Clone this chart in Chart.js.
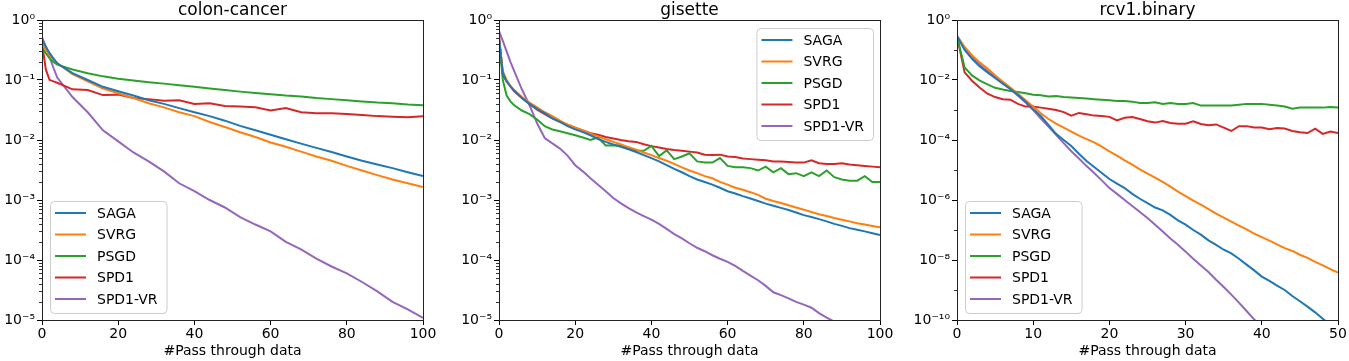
<!DOCTYPE html>
<html>
<head>
<meta charset="utf-8">
<script src="https://cdn.jsdelivr.net/npm/chart.js@4.4.1/dist/chart.umd.min.js"></script>
<style>
  html, body { margin: 0; padding: 0; background: #fff; }
  #wrap { position: relative; width: 1349px; height: 361px; overflow: hidden; }
  canvas { position: absolute; top: 0; }
</style>
</head>
<body>
<div id="wrap">
  <canvas id="c1" width="450" height="361" style="left:0px"></canvas>
  <canvas id="c2" width="450" height="361" style="left:450px"></canvas>
  <canvas id="c3" width="449" height="361" style="left:900px"></canvas>
</div>
<script>
// series shared by all three panels
const seriesNames = ['SAGA', 'SVRG', 'PSGD', 'SPD1', 'SPD1-VR'];
const seriesColors = ['#1f77b4', '#ff7f0e', '#2ca02c', '#d62728', '#9467bd'];

// --- colon-cancer ---
const colonX = [0,1,2,3,4,8,12,16,20,24,28,32,36,40,44,48,52,56,60,64,68,72,76,80,84,88,92,96,100];
const colonSAGA = [0.47,0.36,0.28,0.23,0.19,0.13,0.1,0.077,0.065,0.055,0.046,0.04,0.034,0.029,0.025,0.021,0.0172,0.0145,0.0122,0.0103,0.0087,0.0074,0.0063,0.0053,0.0045,0.0039,0.0034,0.0029,0.0025];
const colonSVRG = [0.4,0.32,0.26,0.22,0.19,0.125,0.095,0.072,0.06,0.05,0.041,0.035,0.029,0.025,0.02,0.0165,0.0135,0.0112,0.0091,0.0077,0.0064,0.0053,0.0045,0.0037,0.0031,0.0026,0.0022,0.0019,0.00165];
const colonPSGD = [0.35,0.28,0.23,0.2,0.18,0.15,0.13,0.115,0.105,0.098,0.092,0.087,0.082,0.077,0.072,0.068,0.064,0.061,0.058,0.055,0.053,0.05,0.048,0.046,0.044,0.042,0.041,0.039,0.038];
const colonSPD1 = [0.42,0.15,0.1,0.095,0.09,0.07,0.068,0.056,0.057,0.05,0.048,0.045,0.046,0.04,0.041,0.037,0.036,0.035,0.031,0.034,0.029,0.028,0.028,0.027,0.026,0.025,0.0245,0.024,0.025];
const colonSPD1VR = [0.52,0.36,0.24,0.16,0.11,0.052,0.029,0.0145,0.0095,0.0062,0.0044,0.003,0.0019,0.0014,0.001,0.00075,0.00052,0.00039,0.0003,0.0002,0.00015,0.000105,0.000078,0.00006,0.000043,0.00003,0.00002,0.000015,0.0000108];

// --- gisette ---
const gisetteX = [0,1,2,3,4,6,8,10,12,14,16,18,20,22,24,26,28,30,32,34,36,38,40,42,44,46,48,50,52,54,56,58,60,62,64,66,68,70,72,74,76,78,80,82,84,86,88,90,92,94,96,98,100];
const gisetteSAGA = [0.5,0.13,0.095,0.078,0.066,0.05,0.04,0.033,0.028,0.023,0.02,0.017,0.015,0.0135,0.012,0.0104,0.0093,0.0084,0.0077,0.007,0.0063,0.0056,0.005,0.0044,0.0038,0.0033,0.0029,0.0025,0.0022,0.002,0.0018,0.0016,0.0014,0.00128,0.00116,0.00106,0.00096,0.00087,0.0008,0.00074,0.00068,0.00062,0.00056,0.00052,0.00048,0.00044,0.0004,0.00037,0.00034,0.00032,0.0003,0.00028,0.00026];
const gisetteSVRG = [0.5,0.14,0.1,0.08,0.068,0.052,0.042,0.035,0.029,0.025,0.021,0.018,0.016,0.0143,0.0128,0.0115,0.0103,0.0093,0.0084,0.0076,0.0069,0.0062,0.0056,0.005,0.0045,0.004,0.0035,0.0031,0.0028,0.0025,0.0023,0.002,0.0018,0.0016,0.00148,0.00135,0.00122,0.00105,0.00096,0.00089,0.00082,0.00075,0.00069,0.00063,0.00058,0.00054,0.0005,0.00047,0.00044,0.00041,0.00039,0.00037,0.00035];
const gisettePSGD = [0.5,0.1,0.055,0.044,0.038,0.031,0.027,0.022,0.017,0.015,0.014,0.013,0.012,0.011,0.01,0.011,0.0081,0.0082,0.008,0.0073,0.0067,0.0066,0.008,0.0054,0.0067,0.0048,0.0053,0.006,0.0044,0.0042,0.0042,0.005,0.0037,0.0035,0.0035,0.0034,0.0031,0.0036,0.0029,0.0034,0.0027,0.0028,0.0025,0.0029,0.0025,0.0031,0.0024,0.0022,0.0021,0.0021,0.0025,0.002,0.002];
const gisetteSPD1 = [0.55,0.12,0.095,0.078,0.065,0.05,0.04,0.032,0.027,0.023,0.02,0.018,0.016,0.0145,0.013,0.0122,0.0112,0.0106,0.01,0.0095,0.0093,0.0085,0.0079,0.0075,0.0071,0.0068,0.0066,0.0064,0.0062,0.0057,0.0056,0.0057,0.0053,0.0052,0.0049,0.0048,0.0047,0.0046,0.0044,0.0044,0.0043,0.0042,0.0042,0.0046,0.0041,0.004,0.004,0.0041,0.0039,0.0038,0.0037,0.0036,0.0035];
const gisetteSPD1VR = [0.65,0.45,0.3,0.2,0.14,0.07,0.038,0.019,0.0108,0.0088,0.0072,0.0055,0.0038,0.003,0.0023,0.0018,0.0014,0.00108,0.00088,0.00073,0.00062,0.00054,0.00047,0.0004,0.00033,0.00027,0.00023,0.00019,0.00016,0.00014,0.00012,0.000105,0.000093,0.00008,0.000066,0.000055,0.000046,0.000037,0.000029,0.000026,0.000023,0.00002,0.000018,0.000016,0.000013,0.000011,0.0000094,0.000008,null,null,null,null,null];

// --- rcv1.binary ---
const rcv1X = [0,1,2,3,4,5,6,7,8,9,10,11,12,13,14,15,16,17,18,19,20,21,22,23,24,25,26,27,28,29,30,31,32,33,34,35,36,37,38,39,40,41,42,43,44,45,46,47,48,49,50];
const rcv1SAGA = [0.295,0.1,0.05,0.028,0.018,0.0117,0.0076,0.005,0.0032,0.0019,0.00105,6.3e-4,3.2e-4,1.6e-4,1e-4,6.3e-5,3.5e-5,2e-5,1.26e-5,7.9e-6,5e-6,3.5e-6,2.5e-6,1.6e-6,1.1e-6,7.9e-7,5.6e-7,4.5e-7,3.2e-7,2.1e-7,1.5e-7,1e-7,7e-8,4.5e-8,3.2e-8,2.2e-8,1.66e-8,1.1e-8,7e-9,4.5e-9,2.8e-9,2e-9,1.4e-9,1e-9,6.3e-10,4.2e-10,2.8e-10,1.8e-10,1.1e-10,7e-11,4.5e-11];
const rcv1SVRG = [0.295,0.126,0.066,0.038,0.024,0.0145,0.0088,0.0056,0.0035,0.0021,0.0013,7.8e-4,5e-4,3.5e-4,2.6e-4,1.9e-4,1.4e-4,1.07e-4,8.3e-5,6e-5,4.2e-5,3e-5,2.1e-5,1.5e-5,1.05e-5,7.6e-6,5.6e-6,4e-6,2.8e-6,1.9e-6,1.35e-6,9.5e-7,7e-7,5e-7,3.5e-7,2.6e-7,1.9e-7,1.4e-7,1.05e-7,7.6e-8,5.8e-8,4.4e-8,3.3e-8,2.5e-8,2e-8,1.5e-8,1.17e-8,8.7e-9,6.6e-9,5e-9,3.8e-9];
const rcv1PSGD = [0.29,0.026,0.014,0.0095,0.0072,0.0055,0.0048,0.0043,0.004,0.0036,0.0032,0.0031,0.0028,0.0029,0.0027,0.0026,0.0025,0.0024,0.0023,0.0022,0.0021,0.002,0.002,0.0019,0.0017,0.0017,0.0018,0.0016,0.0017,0.0016,0.0016,0.0017,0.0014,0.0014,0.0014,0.0014,0.0014,0.0015,0.0016,0.0016,0.0016,0.0015,0.0014,0.0013,0.0011,0.0012,0.0012,0.0012,0.0012,0.00125,0.0012];
const rcv1SPD1 = [0.29,0.018,0.0093,0.0055,0.0035,0.0027,0.0023,0.0022,0.0016,0.0013,0.0013,0.0012,0.0011,0.001,0.00085,0.00065,0.0008,0.00072,0.00065,0.00063,0.00059,0.00045,0.00055,0.00058,0.0005,0.00042,0.00038,0.00043,0.00037,0.00035,0.00035,0.00042,0.00034,0.00031,0.00033,0.00026,0.0002,0.00029,0.00029,0.00026,0.00026,0.00023,0.00025,0.00024,0.0002,0.00018,0.00017,0.00024,0.00016,0.00019,0.00017];
const rcv1SPD1VR = [0.295,0.112,0.056,0.032,0.02,0.0126,0.0079,0.005,0.003,0.00178,0.001,5.2e-4,2.8e-4,1.5e-4,7.9e-5,4.2e-5,2.4e-5,1.35e-5,7.9e-6,4.5e-6,2.5e-6,1.6e-6,1e-6,6.3e-7,4e-7,2.5e-7,1.5e-7,8.9e-8,5.2e-8,3.2e-8,1.9e-8,1.1e-8,6.6e-9,4e-9,2.2e-9,1.26e-9,7e-10,3.8e-10,2e-10,1.05e-10,5.6e-11,null,null,null,null,null,null,null,null,null,null];

// axis ticks (x step, y decade exponents)
const xTicks100 = [0, 20, 40, 60, 80, 100];
const xTicks50 = [0, 10, 20, 30, 40, 50];
const yExps5 = [0, -1, -2, -3, -4, -5];
const yExps10 = [0, -2, -4, -6, -8, -10];
const minorOdd = [-1, -3, -5, -7, -9];

const FONT = 'DejaVu Sans';
const SUP = { '0': '\u2070', '1': '\u00b9', '2': '\u00b2', '3': '\u00b3', '4': '\u2074', '5': '\u2075',
  '6': '\u2076', '7': '\u2077', '8': '\u2078', '9': '\u2079', '-': '\u207b' };
function sup(n) { return String(n).split('').map(c => SUP[c]).join(''); }

// frame, minor ticks, title and in-axes legend
const decor = {
  id: 'decor',
  afterDraw(chart, args, opts) {
    const ctx = chart.ctx;
    const a = chart.chartArea;
    const ys = chart.scales.y;
    ctx.save();

    // minor ticks on the log axis
    ctx.strokeStyle = '#000';
    ctx.lineWidth = 0.8;
    ctx.beginPath();
    if (opts.minorExps) {
      opts.minorExps.forEach(e => {
        const py = Math.round(ys.getPixelForValue(Math.pow(10, e))) + 0.5;
        ctx.moveTo(a.left - 3, py); ctx.lineTo(a.left, py);
      });
    } else {
      for (let e = opts.lowExp; e < 0; e++) {
        for (let k = 2; k <= 9; k++) {
          const py = Math.round(ys.getPixelForValue(k * Math.pow(10, e))) + 0.5;
          ctx.moveTo(a.left - 3, py); ctx.lineTo(a.left, py);
        }
      }
    }
    ctx.stroke();

    // axes frame
    ctx.lineWidth = 1;
    ctx.strokeStyle = '#222';
    ctx.strokeRect(Math.round(a.left) + 0.5, Math.round(a.top) + 0.5,
      Math.round(a.right - a.left), Math.round(a.bottom - a.top));

    // title
    ctx.fillStyle = '#000';
    ctx.font = '17px "' + FONT + '"';
    ctx.textAlign = 'center';
    ctx.textBaseline = 'alphabetic';
    ctx.fillText(opts.title, (a.left + a.right) / 2, 15);

    // legend
    ctx.font = '14px "' + FONT + '"';
    let maxW = 0;
    chart.data.datasets.forEach(d => { maxW = Math.max(maxW, ctx.measureText(d.label).width); });
    const bw = 47 + maxW + 9;
    const bh = 112;
    let bx, by;
    if (opts.legendCorner === 'upperright') {
      bx = a.right - 7 - bw; by = a.top + 8;
    } else {
      bx = a.left + 8; by = a.bottom - 7 - bh;
    }
    ctx.beginPath();
    ctx.roundRect(bx + 0.5, by + 0.5, bw, bh, 4);
    ctx.fillStyle = 'rgba(255,255,255,0.8)';
    ctx.fill();
    ctx.strokeStyle = '#cccccc';
    ctx.lineWidth = 1;
    ctx.stroke();
    ctx.textAlign = 'left';
    ctx.textBaseline = 'middle';
    chart.data.datasets.forEach((d, i) => {
      const ry = by + 12 + i * 21.5;
      ctx.strokeStyle = d.borderColor;
      ctx.lineWidth = 2;
      ctx.beginPath();
      ctx.moveTo(bx + 5, ry); ctx.lineTo(bx + 36, ry);
      ctx.stroke();
      ctx.fillStyle = '#000';
      ctx.fillText(d.label, bx + 47, ry + 1);
    });
    ctx.restore();
  }
};

function makePanel(id, title, xs, series, xTicks, yExps, minorExps, yAxisW, padRight, legendCorner) {
  const datasets = series.map((vals, i) => ({
    label: seriesNames[i],
    data: xs.map((x, j) => ({ x: x, y: vals[j] })),
    borderColor: seriesColors[i],
    borderWidth: 2,
    pointRadius: 0,
    tension: 0,
    fill: false
  }));
  const lowExp = yExps[yExps.length - 1];
  const tickFont = { family: FONT, size: 14 };
  return new Chart(document.getElementById(id), {
    type: 'line',
    data: { datasets },
    options: {
      responsive: false,
      animation: false,
      events: [],
      layout: { padding: { top: 20, right: padRight, left: 0, bottom: 0 } },
      plugins: {
        legend: { display: false },
        title: { display: false },
        tooltip: { enabled: false },
        decor: { title, minorExps, lowExp, legendCorner }
      },
      scales: {
        x: {
          type: 'linear',
          min: xTicks[0],
          max: xTicks[xTicks.length - 1],
          afterBuildTicks(s) { s.ticks = xTicks.map(v => ({ value: v })); },
          ticks: { font: tickFont, color: '#000', padding: 1, maxRotation: 0, autoSkip: false },
          grid: { drawOnChartArea: false, tickLength: 5, color: '#000' },
          border: { display: false },
          title: { display: true, text: '#Pass through data', font: tickFont, color: '#000', padding: { top: 0, bottom: 1 } },
          afterFit(s) { s.height = 41; }
        },
        y: {
          type: 'logarithmic',
          min: Math.pow(10, lowExp),
          max: 1,
          afterBuildTicks(s) { s.ticks = yExps.map(e => ({ value: Math.pow(10, e) })); },
          ticks: {
            callback: v => '10' + sup(Math.round(Math.log10(v))),
            font: tickFont, color: '#000', padding: 2, autoSkip: false
          },
          grid: { drawOnChartArea: false, tickLength: 5, color: '#000' },
          border: { display: false },
          afterFit(s) { s.width = yAxisW; }
        }
      }
    },
    plugins: [decor]
  });
}

makePanel('c1', 'colon-cancer', colonX,
  [colonSAGA, colonSVRG, colonPSGD, colonSPD1, colonSPD1VR],
  xTicks100, yExps5, null, 42, 27, 'lowerleft');
makePanel('c2', 'gisette', gisetteX,
  [gisetteSAGA, gisetteSVRG, gisettePSGD, gisetteSPD1, gisetteSPD1VR],
  xTicks100, yExps5, null, 49, 20, 'upperright');
makePanel('c3', 'rcv1.binary', rcv1X,
  [rcv1SAGA, rcv1SVRG, rcv1PSGD, rcv1SPD1, rcv1SPD1VR],
  xTicks50, yExps10, minorOdd, 57, 11, 'lowerleft');
</script>
</body>
</html>
